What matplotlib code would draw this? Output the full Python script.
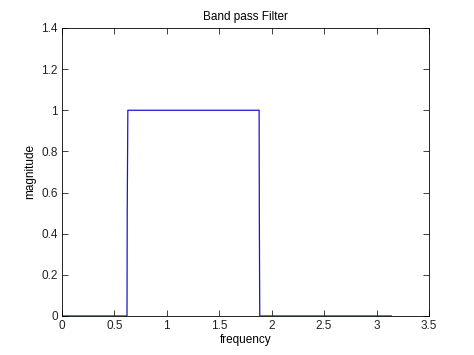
import matplotlib
matplotlib.use("Agg")
import matplotlib.pyplot as plt

# breakpoints of the ideal band pass response
freq = [0.0, 0.62, 0.622, 0.628, 1.88, 1.882, 1.886, 3.14]
magnitude = [0.0, 0.0, 0.5, 1.0, 1.0, 0.5, 0.0, 0.0]

x_ticks = [0, 0.5, 1, 1.5, 2, 2.5, 3, 3.5]
x_labels = ["0", "0.5", "1", "1.5", "2", "2.5", "3", "3.5"]
y_ticks = [0, 0.2, 0.4, 0.6, 0.8, 1, 1.2, 1.4]
y_labels = ["0", "0.2", "0.4", "0.6", "0.8", "1", "1.2", "1.4"]

plt.rcParams["font.family"] = ["Liberation Sans", "DejaVu Sans"]

fig = plt.figure(figsize=(4.74, 3.55), dpi=100)
ax = fig.add_axes([0.1308, 0.1099, 0.7742, 0.8113])

ax.plot(freq, magnitude, color="#1818c8", linewidth=0.9)

ax.set_xlim(0, 3.5)
ax.set_ylim(0, 1.4)
ax.set_xticks(x_ticks)
ax.set_xticklabels(x_labels)
ax.set_yticks(y_ticks)
ax.set_yticklabels(y_labels)
ax.tick_params(direction="in", top=True, right=True, length=4, width=0.6,
               labelsize=8.5, pad=3, colors="#222222")
for spine in ax.spines.values():
    spine.set_linewidth(0.6)

ax.set_title("Band pass Filter", fontsize=8.5, pad=6)
ax.set_xlabel("frequency", fontsize=8.5, labelpad=1)
ax.set_ylabel("magnitude", fontsize=8.5, labelpad=4)

fig.savefig("out.png", dpi=100)
